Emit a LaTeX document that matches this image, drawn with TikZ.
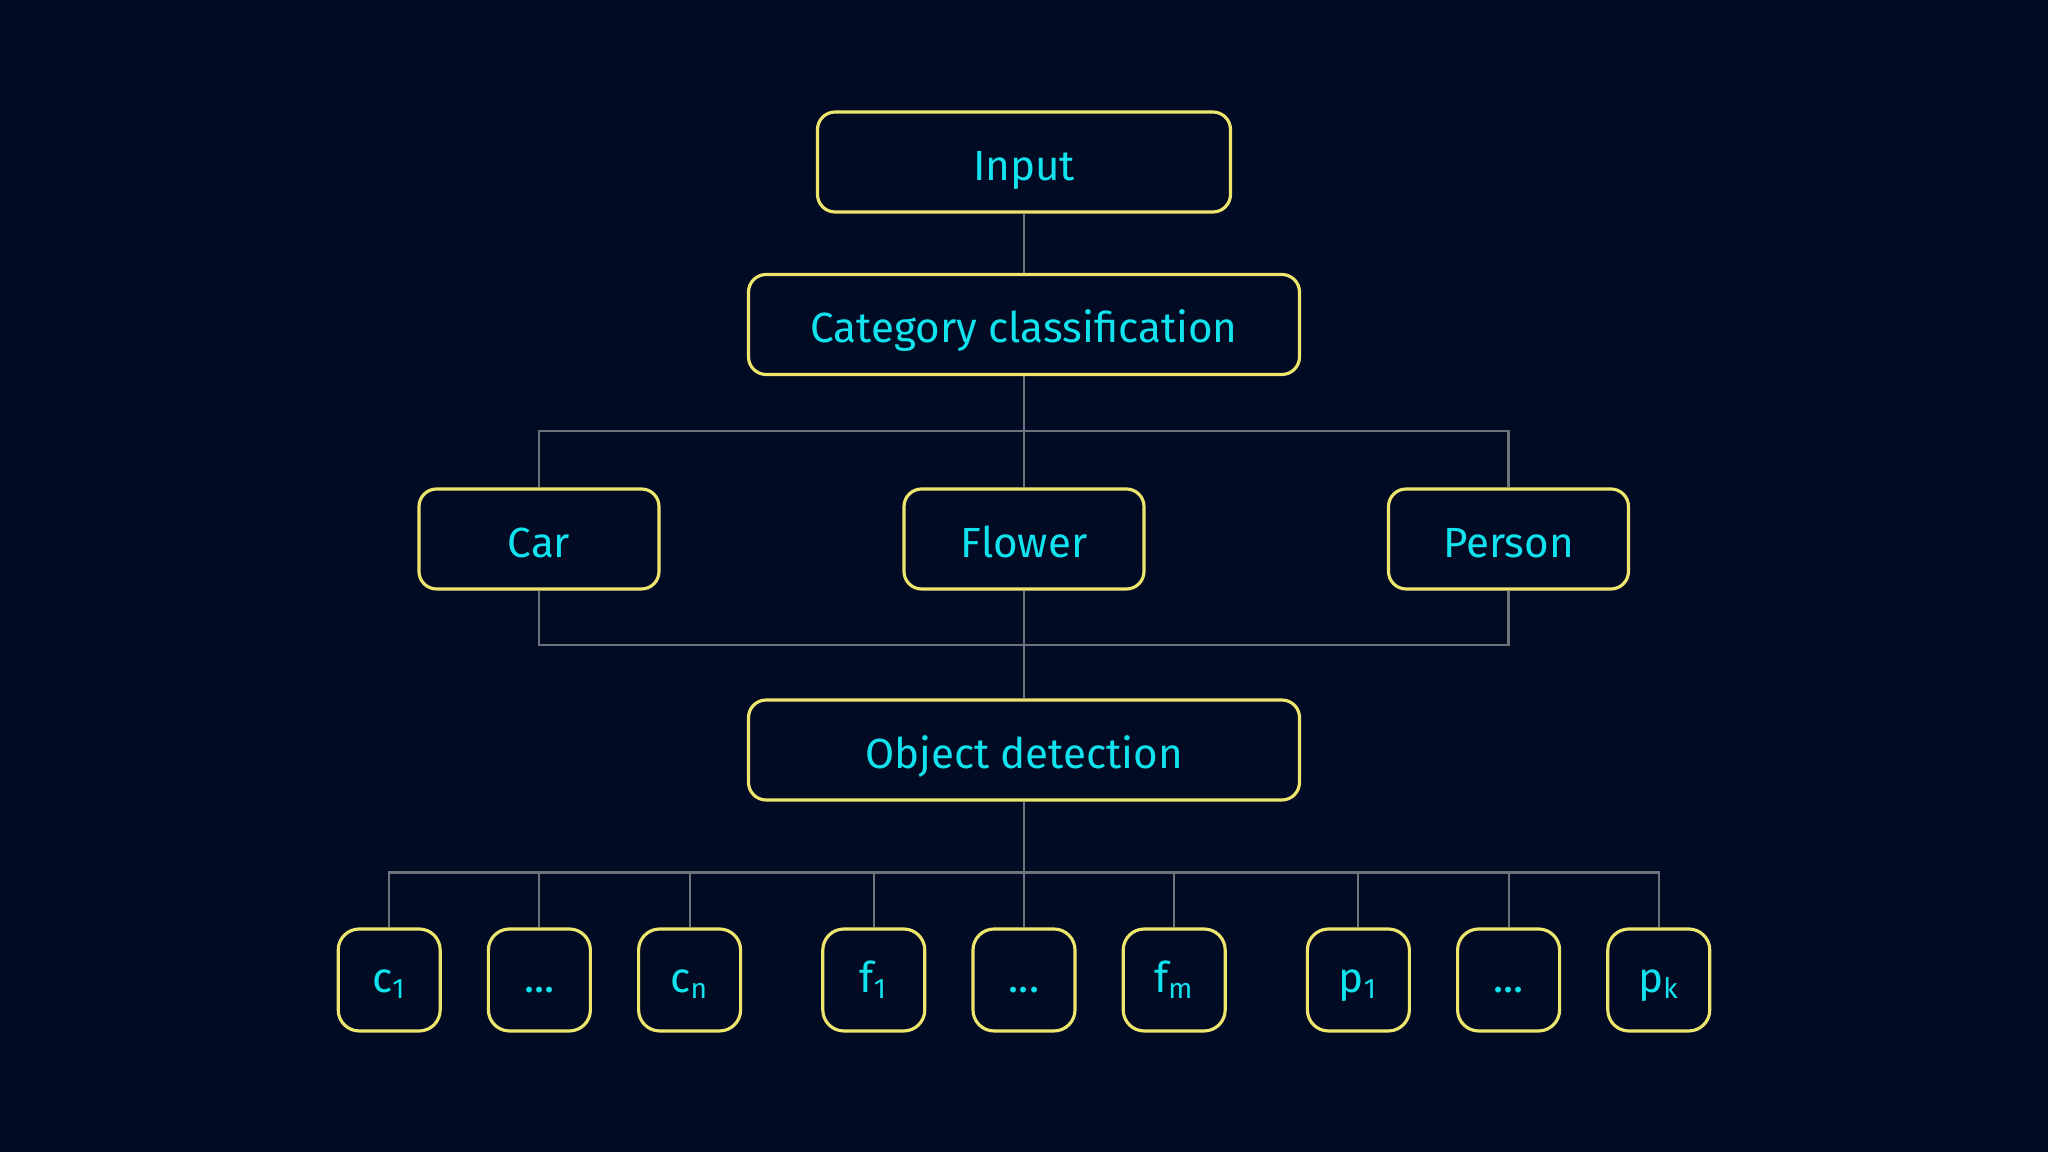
\documentclass[tikz,border=0pt]{standalone}
\usepackage{fontspec}
\setmainfont{Fira Sans}
\definecolor{bgnavy}{HTML}{020B24}
\definecolor{boxyellow}{HTML}{EDE56C}
\definecolor{labelcyan}{HTML}{12E2EE}
\definecolor{wiregray}{HTML}{6E727A}
\tikzset{
  box/.style={draw=boxyellow, line width=0.9pt, rounded corners=5pt,
    text=labelcyan, font=\fontsize{12}{14}\selectfont, inner sep=0pt},
  bigbox/.style={box, minimum height=1.0cm, text height=10.5pt, text depth=0pt},
  leaf/.style={box, rounded corners=6pt, minimum width=1.02cm, minimum height=1.02cm,
    text height=7pt, text depth=0pt},
  wire/.style={draw=wiregray, line width=0.6pt}
}
\begin{document}
\begin{tikzpicture}
  \fill[bgnavy] (0,0) rectangle (20.48,11.52);
  \useasboundingbox (0,0) rectangle (20.48,11.52);
  \draw
    (10.24,9.90) node[bigbox, minimum width=4.13cm] (in){Input}
    (10.24,8.275) node[bigbox, minimum width=5.51cm] (cat){Category classification}
    (5.39,6.13) node[bigbox, minimum width=2.40cm] (car){Car}
    (10.24,6.13) node[bigbox, minimum width=2.40cm] (flo){Flower}
    (15.085,6.13) node[bigbox, minimum width=2.40cm] (per){Person}
    (10.24,4.02) node[bigbox, minimum width=5.51cm] (obj){Object detection}
    (3.892,1.72) node[leaf] (c1){c\textsubscript{1}}
    (5.394,1.72) node[leaf] (cd){...}
    (6.896,1.72) node[leaf] (cn){c\textsubscript{n}}
    (8.738,1.72) node[leaf] (f1){f\textsubscript{1}}
    (10.24,1.72) node[leaf] (fd){...}
    (11.742,1.72) node[leaf] (fm){f\textsubscript{m}}
    (13.584,1.72) node[leaf] (p1){p\textsubscript{1}}
    (15.086,1.72) node[leaf] (pd){...}
    (16.588,1.72) node[leaf] (pk){p\textsubscript{k}};
  \coordinate (j1) at (10.24,7.21);
  \coordinate (j2) at (10.24,5.07);
  \coordinate (j3) at (10.24,2.795);
  \begin{scope}[wire]
    \draw (in) to (cat);
    \draw (cat) to (j1);
    \draw (j1) -| (car);
    \draw (j1) to (flo);
    \draw (j1) -| (per);
    \draw (car) |- (j2);
    \draw (per) |- (j2);
    \draw (flo) to (obj);
    \draw (obj) to (j3);
    \draw (j3) -| (c1);
    \draw (j3) -| (cd);
    \draw (j3) -| (cn);
    \draw (j3) -| (f1);
    \draw (j3) to (fd);
    \draw (j3) -| (fm);
    \draw (j3) -| (p1);
    \draw (j3) -| (pd);
    \draw (j3) -| (pk);
  \end{scope}
\end{tikzpicture}
\end{document}
